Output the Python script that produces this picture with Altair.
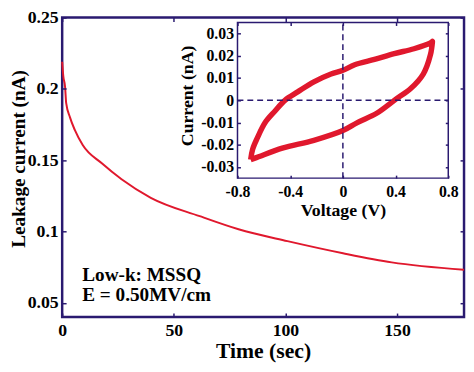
import altair as alt
import pandas as pd

# ---------------- data ----------------
TIME = [0, 0.5, 1.3, 1.8, 3.5, 5.7, 9.2, 17.9, 26.6, 39.7, 61.6, 79, 100.9, 125.8, 147.6, 180]
LEAKAGE = [0.219, 0.209, 0.2014, 0.190, 0.180, 0.171, 0.1606, 0.1476, 0.1366, 0.1236,
           0.1107, 0.1015, 0.0932, 0.0847, 0.0783, 0.0731]

V_UP = [-0.70, -0.685, -0.65, -0.59, -0.515, -0.44, -0.34, -0.22, -0.09, 0.0, 0.09, 0.24, 0.39, 0.54, 0.665, 0.68]
I_UP = [-0.0267, -0.022, -0.017, -0.010, -0.0048, 0.0, 0.0039, 0.0083, 0.0118, 0.0135, 0.016, 0.0184, 0.021,
        0.0232, 0.0258, 0.0265]
V_DOWN = [0.68, 0.665, 0.61, 0.515, 0.40, 0.26, 0.11, 0.0, -0.22, -0.46, -0.64, -0.70]
I_DOWN = [0.0265, 0.0206, 0.0118, 0.0053, 0.0004, -0.0057, -0.010, -0.0136, -0.018, -0.0215, -0.0254, -0.0267]

MAIN_X_TICKS = [0, 50, 100, 150]
MAIN_Y_TICKS = [0.05, 0.1, 0.15, 0.2, 0.25]
IN_X_TICKS = [-0.8, -0.4, 0, 0.4, 0.8]
IN_Y_TICKS = [-0.03, -0.02, -0.01, 0, 0.01, 0.02, 0.03]

NOTE_LINES = ["Low-k: MSSQ", "E = 0.50MV/cm"]
NOTE_T = [9.0, 9.0]
NOTE_Y = [0.0695, 0.0555]

# ---------------- layout / style ----------------
W, H = 408, 304
NAVY = "#2a1a70"
RED = "#e0182d"
FONT = "Liberation Serif"
INSET_X_RANGE = [178, 392]
INSET_Y_RANGE = [163, 5]
MINUS_FIX = "replace(datum.label, '\u2212', '-')"

xm = alt.Scale(domain=[0, 180], nice=False, zero=False)
ym = alt.Scale(domain=[0.04, 0.25], nice=False, zero=False)
xi = alt.Scale(domain=[-0.8, 0.8], range=INSET_X_RANGE, nice=False, zero=False)
yi = alt.Scale(domain=[-0.035, 0.035], range=INSET_Y_RANGE, nice=False, zero=False)


def tick_axis(orient, offset, values, size):
    return alt.Axis(orient=orient, offset=offset, values=values, labels=False, ticks=True,
                    tickSize=size, tickColor=NAVY, tickWidth=1.5, domain=False, grid=False,
                    title=None, zindex=2)


df_curve = pd.DataFrame({"t": TIME, "v": LEAKAGE})
df_loop = pd.DataFrame({"V": V_UP + V_DOWN, "I": I_UP + I_DOWN,
                        "k": list(range(len(V_UP) + len(V_DOWN)))})
df_note1 = pd.DataFrame({"t": NOTE_T[:1], "y": NOTE_Y[:1], "s": NOTE_LINES[:1]})
df_note2 = pd.DataFrame({"t": NOTE_T[1:], "y": NOTE_Y[1:], "s": NOTE_LINES[1:]})

# ---------------- main plot ----------------
curve = alt.Chart(df_curve).mark_line(color=RED, strokeWidth=2, interpolate="monotone").encode(
    x=alt.X("t:Q", scale=xm, axis=alt.Axis(
        orient="bottom", values=MAIN_X_TICKS, format="d", tickSize=0, labelPadding=5,
        labelFontSize=18, labelFlush=False, labelOverlap=False, domain=False, grid=False,
        title="Time (sec)", titleFontSize=22, titleBaseline="top", titleY=24)),
    y=alt.Y("v:Q", scale=ym, axis=alt.Axis(
        orient="left", values=MAIN_Y_TICKS, format="~g", tickSize=0, labelPadding=4,
        labelFontSize=18, labelFlush=False, labelOverlap=False, domain=False, grid=False,
        title="Leakage current (nA)", titleFontSize=19.5, titleBaseline="middle",
        titleX=-44, titleY=143)),
)

note1 = alt.Chart(df_note1).mark_text(align="left", baseline="middle", font=FONT,
                                      fontWeight="bold", fontSize=19.5, color="black").encode(
    x=alt.X("t:Q", scale=xm, axis=tick_axis("top", -H, MAIN_X_TICKS, 4)),
    y=alt.Y("y:Q", scale=ym, axis=tick_axis("right", -W, MAIN_Y_TICKS, 4)),
    text="s:N",
)
note2 = alt.Chart(df_note2).mark_text(align="left", baseline="middle", font=FONT,
                                      fontWeight="bold", fontSize=19.5, color="black").encode(
    x=alt.X("t:Q", scale=xm, axis=tick_axis("bottom", -H, MAIN_X_TICKS, 4)),
    y=alt.Y("y:Q", scale=ym, axis=tick_axis("left", -W, MAIN_Y_TICKS, 4)),
    text="s:N",
)

# ---------------- inset ----------------
frame = alt.Chart(df_curve.head(1)).mark_rect(fill=None, stroke=NAVY, strokeWidth=1.5).encode(
    x=alt.X(datum=-0.8, scale=xi, axis=tick_axis("top", -INSET_Y_RANGE[0], IN_X_TICKS, 3)),
    x2=alt.X2(datum=0.8),
    y=alt.Y(datum=-0.035, scale=yi, axis=tick_axis("right", INSET_X_RANGE[0] - W, IN_Y_TICKS, 3)),
    y2=alt.Y2(datum=0.035),
)

loop = alt.Chart(df_loop).mark_line(color=RED, strokeWidth=5.5, strokeJoin="round",
                                    interpolate="catmull-rom").encode(
    x=alt.X("V:Q", scale=xi, axis=alt.Axis(
        orient="bottom", offset=-(H - INSET_Y_RANGE[0]), values=IN_X_TICKS, format="~g",
        labelExpr=MINUS_FIX, tickSize=0, labelPadding=6, labelFontSize=16, labelFlush=False,
        labelOverlap=False, domain=False, grid=False, title="Voltage (V)", titleFontSize=18,
        titleBaseline="top", titleY=24)),
    y=alt.Y("I:Q", scale=yi, axis=alt.Axis(
        orient="left", offset=-INSET_X_RANGE[0], values=IN_Y_TICKS, format="~g",
        labelExpr=MINUS_FIX, tickSize=0, labelPadding=4, labelFontSize=16, labelFlush=False,
        labelOverlap=False, domain=False, grid=False, title="Current (nA)", titleFontSize=18,
        titleBaseline="middle", titleX=-51, titleY=79)),
    order="k:Q",
)

vzero = alt.Chart(df_curve.head(1)).mark_rule(color=NAVY, strokeWidth=1.5, strokeDash=[6, 4]).encode(
    x=alt.X(datum=0, scale=xi, axis=tick_axis("bottom", INSET_Y_RANGE[1] - H, IN_X_TICKS, 3)),
    y=alt.Y(datum=-0.035, scale=yi, axis=tick_axis("left", -INSET_X_RANGE[1], IN_Y_TICKS, 3)),
    y2=alt.Y2(datum=0.035),
)
hzero = alt.Chart(df_curve.head(1)).mark_rule(color=NAVY, strokeWidth=1.5, strokeDash=[6, 4]).encode(
    x=alt.X(datum=-0.8, scale=xi, axis=None),
    x2=alt.X2(datum=0.8),
    y=alt.Y(datum=0, scale=yi, axis=None),
)

chart = alt.layer(curve, note1, note2, frame, loop, vzero, hzero).resolve_scale(
    x="independent", y="independent"
).resolve_axis(
    x="independent", y="independent"
).properties(
    width=W, height=H,
    autosize=alt.AutoSizeParams(type="none"),
    padding={"left": 55, "top": 7, "right": 2, "bottom": 45},
    background="white",
).configure_view(
    stroke=NAVY, strokeWidth=2.5
).configure_axis(
    labelFont=FONT, titleFont=FONT, labelFontWeight="bold", titleFontWeight="bold",
    labelColor="black", titleColor="black"
)

chart.save("out.html", embed_options={"renderer": "svg", "actions": False})
